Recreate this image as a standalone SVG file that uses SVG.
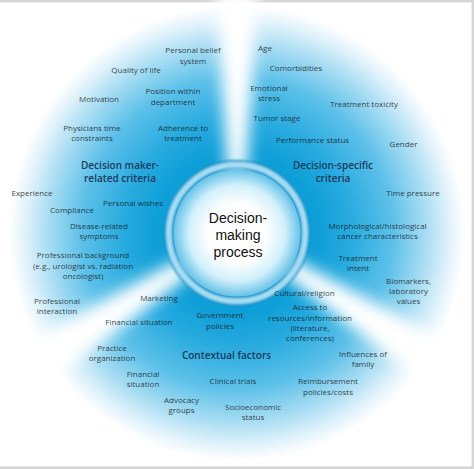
<svg xmlns="http://www.w3.org/2000/svg" width="474" height="469" viewBox="0 0 474 469">
<defs>
  <radialGradient id="bg" gradientUnits="userSpaceOnUse" cx="237" cy="233" r="228">
    <stop offset="0" stop-color="#0a96d0"/>
    <stop offset="0.36" stop-color="#0f9fd8"/>
    <stop offset="0.5" stop-color="#28abdf"/>
    <stop offset="0.68" stop-color="#5cc0e9"/>
    <stop offset="0.82" stop-color="#a3dbf2"/>
    <stop offset="0.93" stop-color="#e0f2fb"/>
    <stop offset="1" stop-color="#ffffff"/>
  </radialGradient>
  <radialGradient id="core" gradientUnits="userSpaceOnUse" cx="237" cy="233" r="64">
    <stop offset="0" stop-color="#ffffff"/>
    <stop offset="0.45" stop-color="#ffffff"/>
    <stop offset="0.75" stop-color="#d2f0fb"/>
    <stop offset="1" stop-color="#63c1e8"/>
  </radialGradient>
  <filter id="blur" filterUnits="userSpaceOnUse" x="-50" y="-50" width="574" height="569">
    <feGaussianBlur stdDeviation="8"/>
  </filter>
  <filter id="soft" filterUnits="userSpaceOnUse" x="-50" y="-50" width="574" height="569">
    <feGaussianBlur stdDeviation="1.2"/>
  </filter>
</defs>
<style>
  text { font-family: "Open Sans", "Noto Sans", sans-serif; text-anchor: middle; }
  .lbl { font-size: 8px; fill: #111111; fill-opacity: 0.8; }
  .hdr { font-size: 10px; font-weight: 600; fill: #1b3a5c; }
  .ctr { font-family: "Liberation Sans", Arial, sans-serif; font-size: 14px; fill: #111111; }
</style>
<rect width="474" height="469" fill="#ffffff"/>
<g id="frame" stroke="#d6d6d6" stroke-width="2.5" fill="none">
  <line x1="0" y1="1.2" x2="474" y2="1.2"/>
  <line x1="472.8" y1="0" x2="472.8" y2="469"/>
  <line x1="0" y1="467.8" x2="474" y2="467.8"/>
</g>
<g id="background">
  <circle cx="237" cy="233" r="228" fill="url(#bg)"/>
  <g fill="#ffffff" filter="url(#blur)">
    <polygon points="228,178 246,178 258,-10 216,-10"/>
    <polygon points="288.0,255.4 453,345 426,384 278.2,270.5"/>
    <polygon points="186.0,255.4 21,345 48,384 195.8,270.5"/>
  </g>
</g>
<g id="center-node">
  <g filter="url(#soft)">
    <circle cx="237" cy="233" r="72" fill="none" stroke="#1a92c8" stroke-width="1.8"/>
    <circle cx="237" cy="233" r="68" fill="none" stroke="#a3def4" stroke-width="6"/>
    <circle cx="237" cy="233" r="64.5" fill="none" stroke="#1b8fc5" stroke-width="1.6"/>
  </g>
  <circle cx="237" cy="233" r="63.5" fill="url(#core)"/>
  <text class="ctr" x="238" y="222.5">Decision-<tspan x="238" dy="17">making</tspan><tspan x="238" dy="17">process</tspan></text>
</g>
<g id="decision-maker-criteria">
  <text class="hdr" x="120" y="168.5">Decision maker-<tspan x="120" dy="13">related criteria</tspan></text>
  <text class="lbl" x="193" y="53">Personal belief<tspan x="193" dy="10.5">system</tspan></text>
  <text class="lbl" x="136" y="73">Quality of life</text>
  <text class="lbl" x="173" y="94">Position within<tspan x="173" dy="10.5">department</tspan></text>
  <text class="lbl" x="99" y="102">Motivation</text>
  <text class="lbl" x="92" y="131">Physicians time<tspan x="92" dy="10">constraints</tspan></text>
  <text class="lbl" x="183" y="131">Adherence to<tspan x="183" dy="10">treatment</tspan></text>
  <text class="lbl" x="32" y="196">Experience</text>
  <text class="lbl" x="133" y="206">Personal wishes</text>
  <text class="lbl" x="72" y="213">Compliance</text>
  <text class="lbl" x="99" y="229">Disease-related<tspan x="99" dy="10">symptoms</tspan></text>
  <text class="lbl" x="83" y="258">Professional background<tspan x="83" dy="10.5">(e.g., urologist vs. radiation</tspan><tspan x="83" dy="10.5">oncologist)</tspan></text>
  <text class="lbl" x="57" y="304">Professional<tspan x="57" dy="10">interaction</tspan></text>
</g>
<g id="decision-specific-criteria">
  <text class="hdr" x="333" y="168.5">Decision-specific<tspan x="333" dy="13">criteria</tspan></text>
  <text class="lbl" x="265" y="51">Age</text>
  <text class="lbl" x="296" y="71">Comorbidities</text>
  <text class="lbl" x="269" y="91">Emotional<tspan x="269" dy="10">stress</tspan></text>
  <text class="lbl" x="364" y="107">Treatment toxicity</text>
  <text class="lbl" x="277" y="121">Tumor stage</text>
  <text class="lbl" x="312.5" y="143">Performance status</text>
  <text class="lbl" x="403.5" y="147">Gender</text>
  <text class="lbl" x="413" y="196">Time pressure</text>
  <text class="lbl" x="377.5" y="229">Morphological/histological<tspan x="377.5" dy="10">cancer characteristics</tspan></text>
  <text class="lbl" x="358" y="261">Treatment<tspan x="358" dy="10">intent</tspan></text>
  <text class="lbl" x="408.5" y="284">Biomarkers,<tspan x="408.5" dy="10">laboratory</tspan><tspan x="408.5" dy="10">values</tspan></text>
</g>
<g id="contextual-factors">
  <text class="hdr" x="226.5" y="358.5">Contextual factors</text>
  <text class="lbl" x="159" y="301">Marketing</text>
  <text class="lbl" x="220" y="318">Government<tspan x="220" dy="11">policies</tspan></text>
  <text class="lbl" x="304.5" y="296">Cultural/religion</text>
  <text class="lbl" x="310" y="310">Access to<tspan x="310" dy="10.5">resources/information</tspan><tspan x="310" dy="10.3">(literature,</tspan><tspan x="310" dy="10.2">conferences)</tspan></text>
  <text class="lbl" x="139" y="325">Financial situation</text>
  <text class="lbl" x="112" y="351">Practice<tspan x="112" dy="10">organization</tspan></text>
  <text class="lbl" x="363" y="357">Influences of<tspan x="363" dy="10">family</tspan></text>
  <text class="lbl" x="143" y="377">Financial<tspan x="143" dy="10">situation</tspan></text>
  <text class="lbl" x="233" y="384">Clinical trials</text>
  <text class="lbl" x="328" y="384">Reimbursement<tspan x="328" dy="11">policies/costs</tspan></text>
  <text class="lbl" x="181.5" y="403">Advocacy<tspan x="181.5" dy="10">groups</tspan></text>
  <text class="lbl" x="253" y="410">Socioeconomic<tspan x="253" dy="10">status</tspan></text>
</g>
</svg>
